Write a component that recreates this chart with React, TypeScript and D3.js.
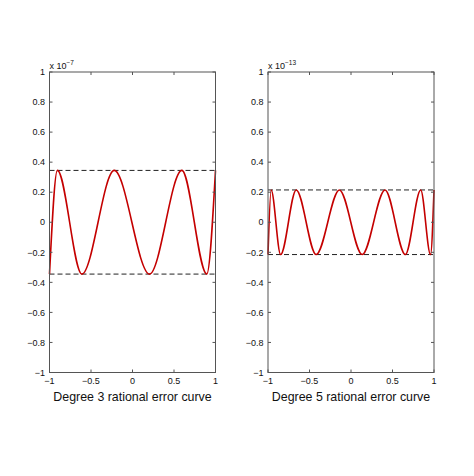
import * as d3 from "d3";

// tick labels
const xTicks = [-1, -0.5, 0, 0.5, 1];
const yTicks = [1, 0.8, 0.6, 0.4, 0.2, 0, -0.2, -0.4, -0.6, -0.8, -1];

// degree 3: alternation points (x) and error values (units of 1e-7)
const deg3X = [-1, -0.905, -0.61, -0.22, 0.205, 0.595, 0.895, 1];
const deg3Y = [-0.345, 0.345, -0.345, 0.345, -0.345, 0.345, -0.345, 0.345];
const deg3Level = 0.345;

// degree 5: alternation points (x) and error values (units of 1e-13)
const deg5X = [-1, -0.962, -0.848, -0.66, -0.42, -0.14, 0.135, 0.41, 0.655, 0.84, 0.958, 1];
const deg5Y = [-0.215, 0.215, -0.215, 0.215, -0.215, 0.215, -0.215, 0.215, -0.215, 0.215, -0.215, 0.215];
const deg5Level = 0.215;

const titles = ["Degree 3 rational error curve", "Degree 5 rational error curve"];
const exponents = ["\u22127", "\u221213"];

const W = 474;
const H = 476;
const top = 72;
const bottom = 372.5;
const panelLeft = [49.5, 268];
const panelW = 166;
const font = "'Liberation Sans', Arial, Helvetica, sans-serif";

const fmt = (v: number) => (v < 0 ? "\u2212" : "") + String(Math.abs(v));

function Panel({ i, xs, ys, level }: { i: number; xs: number[]; ys: number[]; level: number }) {
  const x = d3.scaleLinear().domain([-1, 1]).range([panelLeft[i], panelLeft[i] + panelW]);
  const y = d3.scaleLinear().domain([-1, 1]).range([bottom, top]);
  const pts = xs.map((v, k) => [v, ys[k]] as [number, number]);
  const line = d3
    .line<[number, number]>()
    .x((d) => x(d[0]))
    .y((d) => y(d[1]))
    .curve(d3.curveMonotoneX);
  const tl = 3;
  const axisColor = "#555";
  return (
    <g>
      <line x1={x(-1)} x2={x(1)} y1={y(level)} y2={y(level)} stroke="#222" strokeWidth={1} strokeDasharray="5,3" />
      <line x1={x(-1)} x2={x(1)} y1={y(-level)} y2={y(-level)} stroke="#222" strokeWidth={1} strokeDasharray="5,3" />
      <path d={line(pts) || ""} fill="none" stroke="#c40000" strokeWidth={1.6} />
      <rect x={x(-1)} y={top} width={panelW} height={bottom - top} fill="none" stroke={axisColor} strokeWidth={1} />
      {xTicks.map((t) => (
        <g key={"x" + t}>
          <line x1={x(t)} x2={x(t)} y1={bottom} y2={bottom - tl} stroke={axisColor} />
          <line x1={x(t)} x2={x(t)} y1={top} y2={top + tl} stroke={axisColor} />
          <text x={x(t)} y={bottom + 11} textAnchor="middle" fontSize={9} fontFamily={font} fill="#111">
            {fmt(t)}
          </text>
        </g>
      ))}
      {yTicks.map((t) => (
        <g key={"y" + t}>
          <line x1={x(-1)} x2={x(-1) + tl} y1={y(t)} y2={y(t)} stroke={axisColor} />
          <line x1={x(1)} x2={x(1) - tl} y1={y(t)} y2={y(t)} stroke={axisColor} />
          <text x={x(-1) - 4.5} y={y(t) + 3.2} textAnchor="end" fontSize={9} fontFamily={font} fill="#111">
            {fmt(t)}
          </text>
        </g>
      ))}
      <text x={x(-1)} y={68.5} fontSize={9} fontFamily={font} fill="#111">
        x 10
        <tspan dy={-4} fontSize={6.5}>
          {exponents[i]}
        </tspan>
      </text>
      <text x={x(0)} y={401} textAnchor="middle" fontSize={12.4} fontFamily={font} fill="#111">
        {titles[i]}
      </text>
    </g>
  );
}

export default function App() {
  return (
    <svg
      width={W}
      height={H}
      viewBox={`0 0 ${W} ${H}`}
      style={{ position: "fixed", left: 0, top: 0, background: "#fff" }}
    >
      <rect width={W} height={H} fill="#fff" />
      <Panel i={0} xs={deg3X} ys={deg3Y} level={deg3Level} />
      <Panel i={1} xs={deg5X} ys={deg5Y} level={deg5Level} />
    </svg>
  );
}
